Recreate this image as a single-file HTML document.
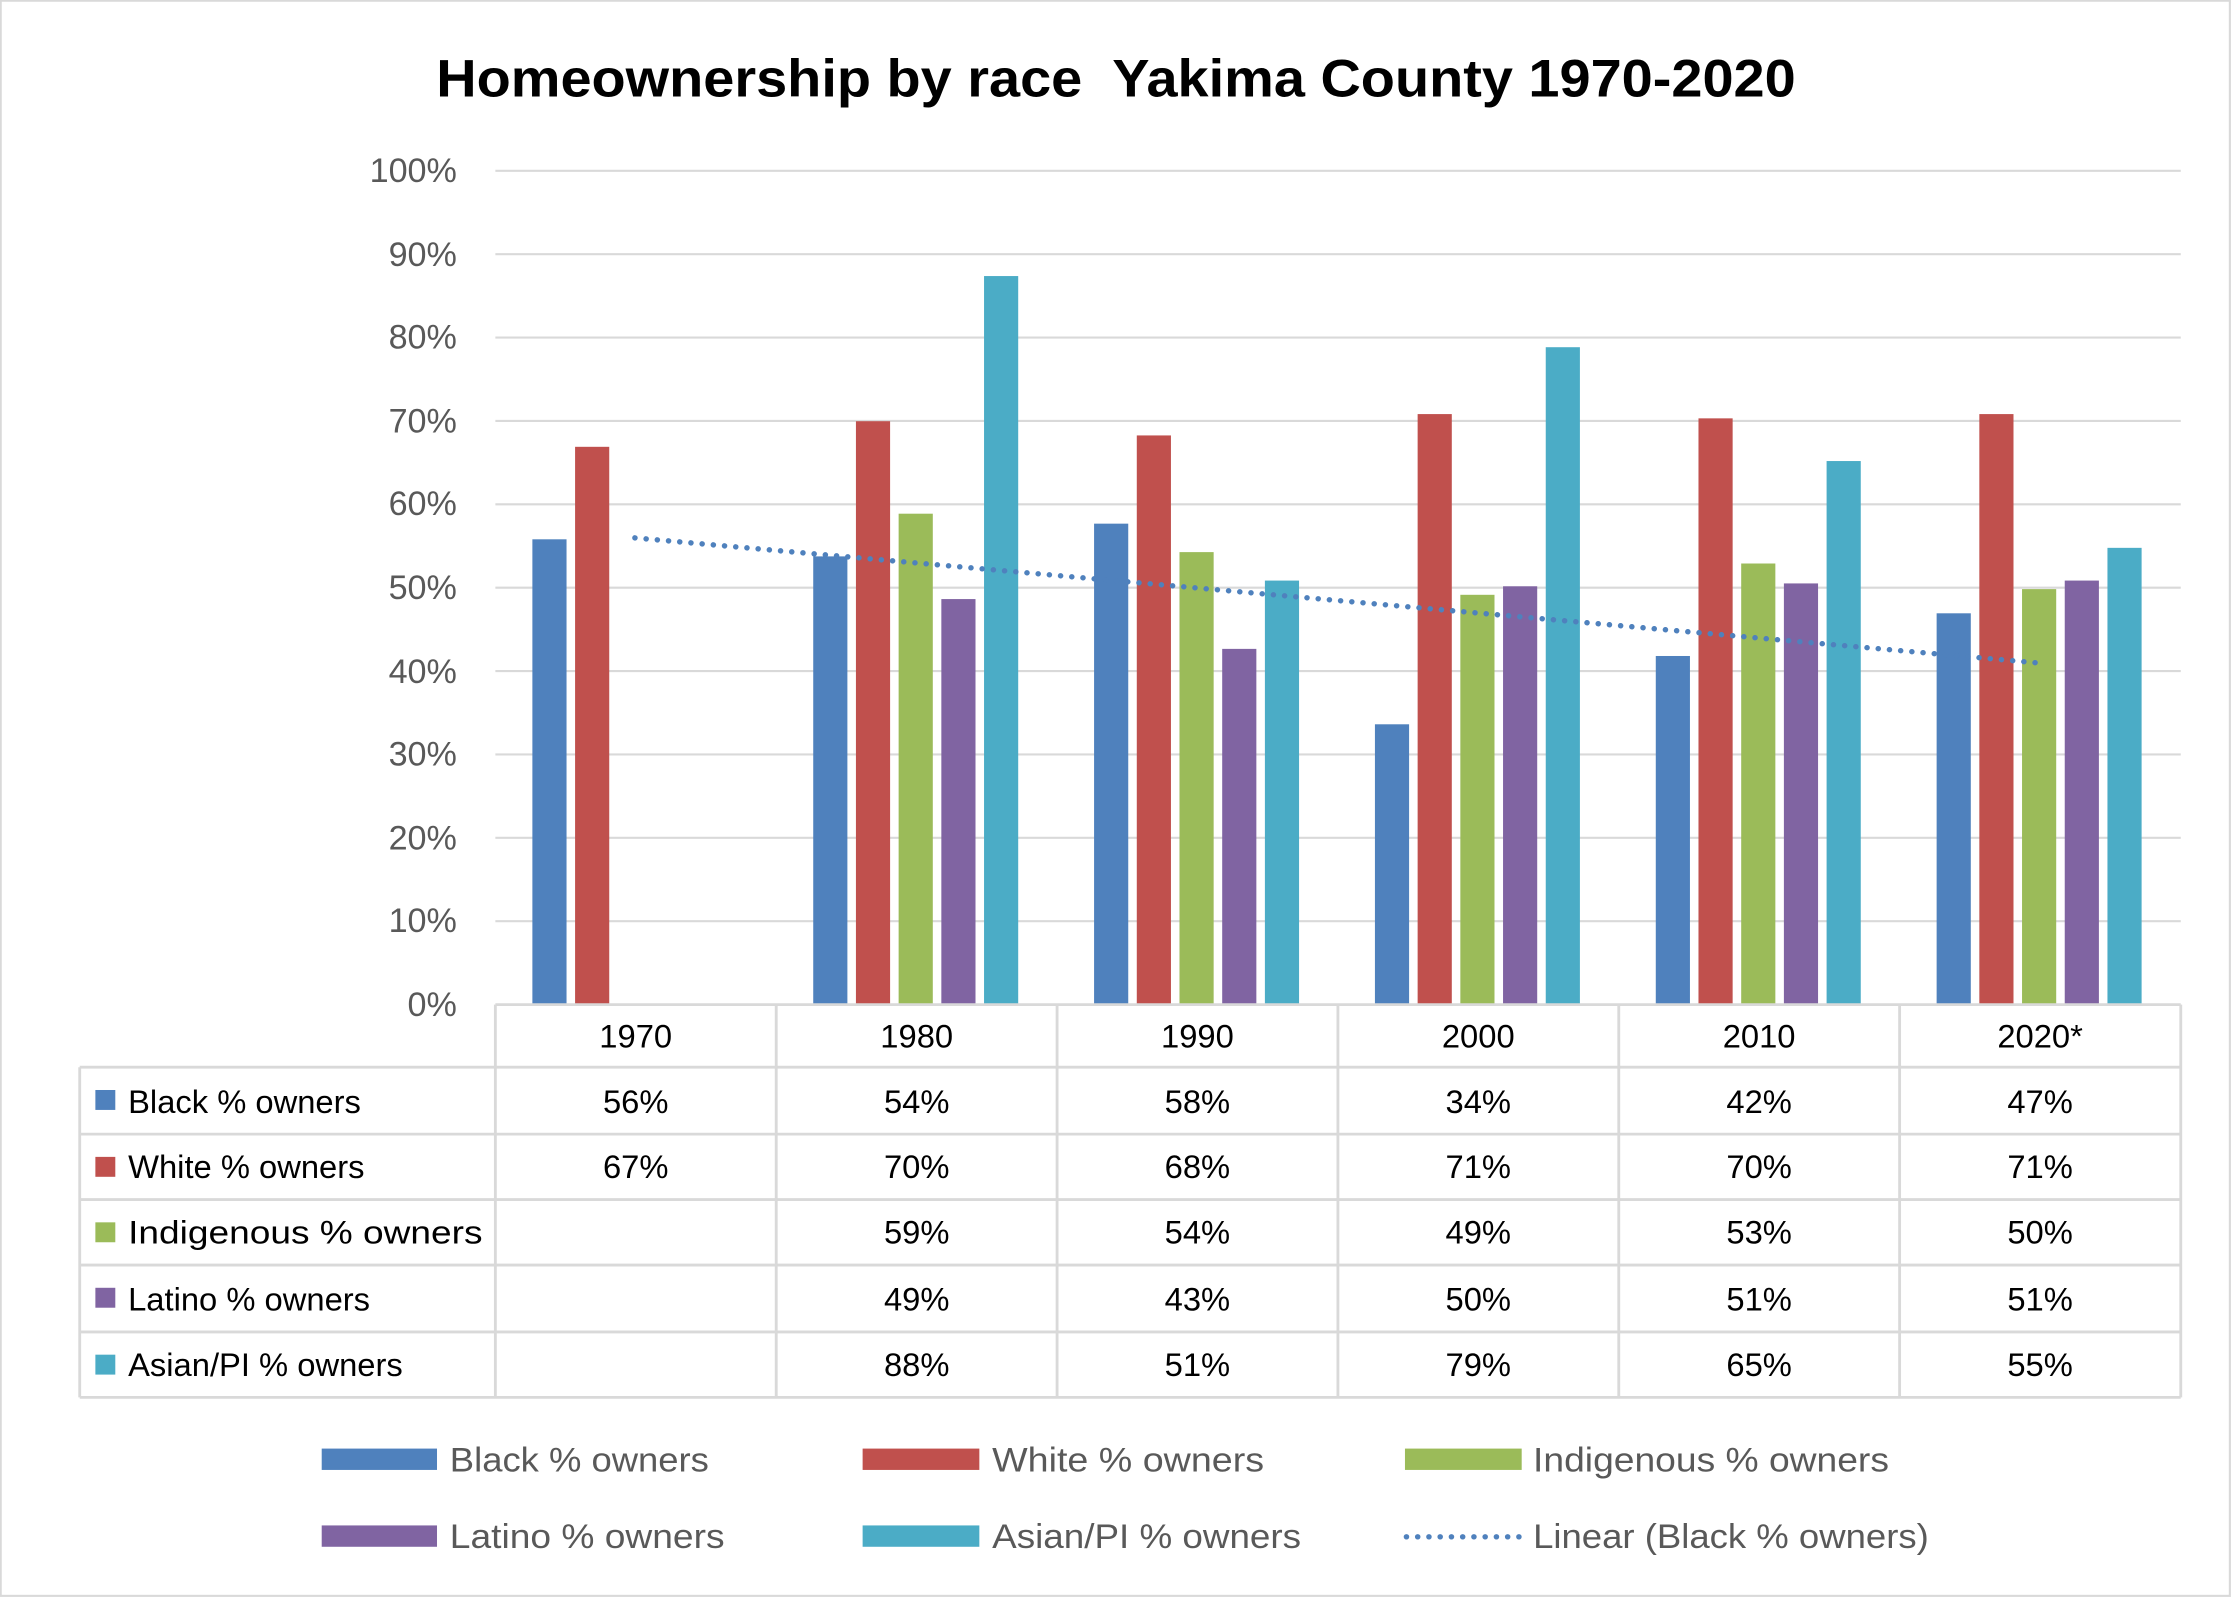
<!DOCTYPE html>
<html><head><meta charset="utf-8"><style>
html,body{margin:0;padding:0;background:#fff;}
svg{display:block;}
</style></head><body>
<svg width="2232" height="1598" viewBox="0 0 1568 1123" preserveAspectRatio="none" xmlns="http://www.w3.org/2000/svg" font-family="Liberation Sans, sans-serif">
<rect x="0.5" y="0.5" width="1566" height="1121" fill="#fff" stroke="#d9d9d9" stroke-width="1.5"/>
<text x="784" y="68" text-anchor="middle" font-size="37" font-weight="bold" fill="#000" textLength="955" lengthAdjust="spacingAndGlyphs">Homeownership by race&#160; Yakima County 1970-2020</text>
<g stroke="#d9d9d9" stroke-width="1.5">
<line x1="348" y1="120" x2="1532" y2="120"/><line x1="348" y1="178.6" x2="1532" y2="178.6"/>
<line x1="348" y1="237.2" x2="1532" y2="237.2"/><line x1="348" y1="295.8" x2="1532" y2="295.8"/>
<line x1="348" y1="354.4" x2="1532" y2="354.4"/><line x1="348" y1="413" x2="1532" y2="413"/>
<line x1="348" y1="471.6" x2="1532" y2="471.6"/><line x1="348" y1="530.2" x2="1532" y2="530.2"/>
<line x1="348" y1="588.8" x2="1532" y2="588.8"/><line x1="348" y1="647.4" x2="1532" y2="647.4"/>
</g>
<g font-size="24" fill="#595959" text-anchor="end">
<text x="321" y="128">100%</text><text x="321" y="187">90%</text><text x="321" y="245">80%</text>
<text x="321" y="304">70%</text><text x="321" y="362">60%</text><text x="321" y="421">50%</text>
<text x="321" y="480">40%</text><text x="321" y="538">30%</text><text x="321" y="597">20%</text>
<text x="321" y="655">10%</text><text x="321" y="714">0%</text>
</g>
<g>
<rect x="374" y="379" width="24" height="327" fill="#4f81bd"/>
<rect x="404" y="314" width="24" height="392" fill="#c0504d"/>

<rect x="571.3" y="391" width="24" height="315" fill="#4f81bd"/>
<rect x="601.3" y="296" width="24" height="410" fill="#c0504d"/>
<rect x="631.3" y="361" width="24" height="345" fill="#9bbb59"/>
<rect x="661.3" y="421" width="24" height="285" fill="#8064a2"/>
<rect x="691.3" y="194" width="24" height="512" fill="#4bacc6"/>

<rect x="768.6" y="368" width="24" height="338" fill="#4f81bd"/>
<rect x="798.6" y="306" width="24" height="400" fill="#c0504d"/>
<rect x="828.6" y="388" width="24" height="318" fill="#9bbb59"/>
<rect x="858.6" y="456" width="24" height="250" fill="#8064a2"/>
<rect x="888.6" y="408" width="24" height="298" fill="#4bacc6"/>

<rect x="965.9" y="509" width="24" height="197" fill="#4f81bd"/>
<rect x="995.9" y="291" width="24" height="415" fill="#c0504d"/>
<rect x="1025.9" y="418" width="24" height="288" fill="#9bbb59"/>
<rect x="1055.9" y="412" width="24" height="294" fill="#8064a2"/>
<rect x="1085.9" y="244" width="24" height="462" fill="#4bacc6"/>

<rect x="1163.2" y="461" width="24" height="245" fill="#4f81bd"/>
<rect x="1193.2" y="294" width="24" height="412" fill="#c0504d"/>
<rect x="1223.2" y="396" width="24" height="310" fill="#9bbb59"/>
<rect x="1253.2" y="410" width="24" height="296" fill="#8064a2"/>
<rect x="1283.2" y="324" width="24" height="382" fill="#4bacc6"/>

<rect x="1360.5" y="431" width="24" height="275" fill="#4f81bd"/>
<rect x="1390.5" y="291" width="24" height="415" fill="#c0504d"/>
<rect x="1420.5" y="414" width="24" height="292" fill="#9bbb59"/>
<rect x="1450.5" y="408" width="24" height="298" fill="#8064a2"/>
<rect x="1480.5" y="385" width="24" height="321" fill="#4bacc6"/>
</g>
<line x1="446" y1="378" x2="1433" y2="466" stroke="#4f81bd" stroke-width="3.8" stroke-linecap="round" stroke-dasharray="0.1 7.8"/>
<g stroke="#d9d9d9" stroke-width="2" fill="none">
<line x1="348" y1="706" x2="1532" y2="706"/>
<line x1="56" y1="750" x2="1532" y2="750"/>
<line x1="56" y1="797" x2="1532" y2="797"/>
<line x1="56" y1="843" x2="1532" y2="843"/>
<line x1="56" y1="889" x2="1532" y2="889"/>
<line x1="56" y1="936" x2="1532" y2="936"/>
<line x1="56" y1="982" x2="1532" y2="982"/>
<line x1="56" y1="750" x2="56" y2="982"/>
<line x1="348" y1="706" x2="348" y2="982"/>
<line x1="545.3" y1="706" x2="545.3" y2="982"/>
<line x1="742.6" y1="706" x2="742.6" y2="982"/>
<line x1="939.9" y1="706" x2="939.9" y2="982"/>
<line x1="1137.2" y1="706" x2="1137.2" y2="982"/>
<line x1="1334.5" y1="706" x2="1334.5" y2="982"/>
<line x1="1532" y1="706" x2="1532" y2="982"/>
</g>
<g font-size="23" fill="#000" text-anchor="middle">
<text x="446.6" y="736">1970</text><text x="644" y="736">1980</text><text x="841.2" y="736">1990</text>
<text x="1038.5" y="736">2000</text><text x="1235.8" y="736">2010</text><text x="1433.2" y="736">2020*</text>

<text x="446.6" y="782">56%</text><text x="644" y="782">54%</text><text x="841.2" y="782">58%</text>
<text x="1038.5" y="782">34%</text><text x="1235.8" y="782">42%</text><text x="1433.2" y="782">47%</text>

<text x="446.6" y="828">67%</text><text x="644" y="828">70%</text><text x="841.2" y="828">68%</text>
<text x="1038.5" y="828">71%</text><text x="1235.8" y="828">70%</text><text x="1433.2" y="828">71%</text>

<text x="644" y="874">59%</text><text x="841.2" y="874">54%</text>
<text x="1038.5" y="874">49%</text><text x="1235.8" y="874">53%</text><text x="1433.2" y="874">50%</text>

<text x="644" y="921">49%</text><text x="841.2" y="921">43%</text>
<text x="1038.5" y="921">50%</text><text x="1235.8" y="921">51%</text><text x="1433.2" y="921">51%</text>

<text x="644" y="967">88%</text><text x="841.2" y="967">51%</text>
<text x="1038.5" y="967">79%</text><text x="1235.8" y="967">65%</text><text x="1433.2" y="967">55%</text>
</g>
<g font-size="23" fill="#000">
<rect x="67" y="766" width="14" height="14" fill="#4f81bd"/><text x="90" y="782">Black % owners</text>
<rect x="67" y="813" width="14" height="14" fill="#c0504d"/><text x="90" y="828">White % owners</text>
<rect x="67" y="859" width="14" height="14" fill="#9bbb59"/><text x="90" y="874" textLength="249" lengthAdjust="spacingAndGlyphs">Indigenous % owners</text>
<rect x="67" y="905" width="14" height="14" fill="#8064a2"/><text x="90" y="921">Latino % owners</text>
<rect x="67" y="952" width="14" height="14" fill="#4bacc6"/><text x="90" y="967">Asian/PI % owners</text>
</g>
<g font-size="24" fill="#595959">
<rect x="226" y="1018" width="81" height="15" fill="#4f81bd"/><text x="316" y="1034" textLength="182" lengthAdjust="spacingAndGlyphs">Black % owners</text>
<rect x="606" y="1018" width="82" height="15" fill="#c0504d"/><text x="697" y="1034" textLength="191" lengthAdjust="spacingAndGlyphs">White % owners</text>
<rect x="987" y="1018" width="82" height="15" fill="#9bbb59"/><text x="1077" y="1034" textLength="250" lengthAdjust="spacingAndGlyphs">Indigenous % owners</text>
<rect x="226" y="1072" width="81" height="15" fill="#8064a2"/><text x="316" y="1088" textLength="193" lengthAdjust="spacingAndGlyphs">Latino % owners</text>
<rect x="606" y="1072" width="82" height="15" fill="#4bacc6"/><text x="697" y="1088" textLength="217" lengthAdjust="spacingAndGlyphs">Asian/PI % owners</text>
<line x1="988" y1="1080" x2="1068" y2="1080" stroke="#4f81bd" stroke-width="3.8" stroke-linecap="round" stroke-dasharray="0.1 7.8"/>
<text x="1077" y="1088" textLength="278" lengthAdjust="spacingAndGlyphs">Linear (Black % owners)</text>
</g>
</svg>
</body></html>
